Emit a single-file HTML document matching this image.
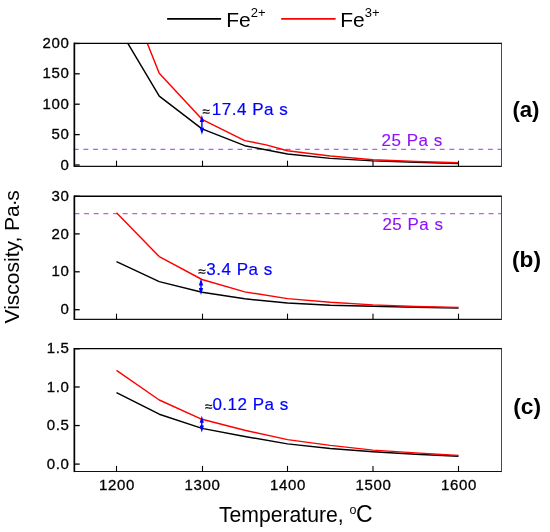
<!DOCTYPE html>
<html><head><meta charset="utf-8"><title>Viscosity vs Temperature</title>
<style>html,body{margin:0;padding:0;background:#fff;}svg{display:block;}text{font-family:"Liberation Sans", Arial, sans-serif;}text.t{stroke:#000;stroke-width:0.3px;}</style></head><body>
<svg width="550" height="532" viewBox="0 0 550 532">
<rect width="550" height="532" fill="#fff"/>
<defs>
<clipPath id="clipa"><rect x="74.0" y="43.35" width="427.5" height="122.95000000000002"/></clipPath>
<clipPath id="clipb"><rect x="74.0" y="196.3" width="427.5" height="123.0"/></clipPath>
<clipPath id="clipc"><rect x="74.0" y="348.65" width="427.5" height="122.85000000000002"/></clipPath>
</defs>
<line x1="167.1" y1="18.9" x2="221.1" y2="18.9" stroke="#000" stroke-width="1.6"/>
<text x="226.3" y="26.6" font-size="21">Fe<tspan font-size="13" dy="-9.8">2+</tspan></text>
<line x1="281.2" y1="18.9" x2="335.6" y2="18.9" stroke="#f00" stroke-width="1.6"/>
<text x="340.2" y="26.6" font-size="21">Fe<tspan font-size="13" dy="-9.8">3+</tspan></text>
<line x1="73.8" y1="149.3" x2="501.0" y2="149.3" stroke="#b45cff" stroke-width="1.2" stroke-dasharray="4.9 4.73"/>
<line x1="74.5" y1="213.55" x2="501.0" y2="213.55" stroke="#b45cff" stroke-width="1.2" stroke-dasharray="4.9 4.73"/>
<polyline clip-path="url(#clipa)" points="116.50,24.30 159.25,96.20 202.00,128.90 244.75,145.70 287.50,154.00 330.25,158.40 373.00,160.90 415.75,162.20 458.50,163.50" fill="none" stroke="#000" stroke-width="1.45" stroke-linejoin="round"/>
<polyline clip-path="url(#clipa)" points="116.50,-33.60 159.25,73.20 202.00,119.30 244.75,140.60 266.12,144.90 287.50,150.80 330.25,156.00 373.00,159.80 415.75,161.50 458.50,162.70" fill="none" stroke="#f00" stroke-width="1.45" stroke-linejoin="round"/>
<line x1="74.35" y1="42.65" x2="74.35" y2="166.9" stroke="#000" stroke-width="1.7"/>
<line x1="501.5" y1="42.65" x2="501.5" y2="166.9" stroke="#4a4a4a" stroke-width="1.05"/>
<line x1="74.0" y1="43.35" x2="501.5" y2="43.35" stroke="#000" stroke-width="1.4"/>
<line x1="74.0" y1="166.3" x2="501.5" y2="166.3" stroke="#111" stroke-width="1.2"/>
<line x1="74.0" y1="165.0" x2="79.7" y2="165.0" stroke="#000" stroke-width="1.3"/>
<text x="69.5" y="169.60" class="t" font-size="15.0" letter-spacing="0.65" text-anchor="end">0</text>
<line x1="74.0" y1="134.6" x2="79.7" y2="134.6" stroke="#000" stroke-width="1.3"/>
<text x="69.5" y="139.20" class="t" font-size="15.0" letter-spacing="0.65" text-anchor="end">50</text>
<line x1="74.0" y1="104.2" x2="79.7" y2="104.2" stroke="#000" stroke-width="1.3"/>
<text x="69.5" y="108.80" class="t" font-size="15.0" letter-spacing="0.65" text-anchor="end">100</text>
<line x1="74.0" y1="73.8" x2="79.7" y2="73.8" stroke="#000" stroke-width="1.3"/>
<text x="69.5" y="78.40" class="t" font-size="15.0" letter-spacing="0.65" text-anchor="end">150</text>
<line x1="74.0" y1="43.5" x2="79.7" y2="43.5" stroke="#000" stroke-width="1.3"/>
<text x="69.5" y="48.10" class="t" font-size="15.0" letter-spacing="0.65" text-anchor="end">200</text>
<line x1="116.50" y1="166.3" x2="116.50" y2="160.70" stroke="#000" stroke-width="1.1"/>
<line x1="202.50" y1="166.3" x2="202.50" y2="160.70" stroke="#000" stroke-width="1.1"/>
<line x1="287.50" y1="166.3" x2="287.50" y2="160.70" stroke="#000" stroke-width="1.1"/>
<line x1="373.00" y1="166.3" x2="373.00" y2="160.70" stroke="#000" stroke-width="1.1"/>
<line x1="458.50" y1="166.3" x2="458.50" y2="160.70" stroke="#000" stroke-width="1.1"/>
<polyline clip-path="url(#clipb)" points="116.50,261.60 159.25,281.60 202.00,292.30 244.75,298.80 287.50,303.00 330.25,305.20 373.00,306.20 415.75,307.30 458.50,308.00" fill="none" stroke="#000" stroke-width="1.45" stroke-linejoin="round"/>
<polyline clip-path="url(#clipb)" points="116.50,212.65 159.25,256.60 202.00,279.50 244.75,291.90 287.50,298.60 330.25,302.30 373.00,304.90 415.75,306.50 458.50,307.50" fill="none" stroke="#f00" stroke-width="1.45" stroke-linejoin="round"/>
<line x1="74.35" y1="195.60000000000002" x2="74.35" y2="319.90000000000003" stroke="#000" stroke-width="1.7"/>
<line x1="501.5" y1="195.60000000000002" x2="501.5" y2="319.90000000000003" stroke="#4a4a4a" stroke-width="1.05"/>
<line x1="74.0" y1="196.3" x2="501.5" y2="196.3" stroke="#000" stroke-width="1.4"/>
<line x1="74.0" y1="319.3" x2="501.5" y2="319.3" stroke="#111" stroke-width="1.2"/>
<line x1="74.0" y1="309.7" x2="79.7" y2="309.7" stroke="#000" stroke-width="1.3"/>
<text x="69.5" y="314.30" class="t" font-size="15.0" letter-spacing="0.65" text-anchor="end">0</text>
<line x1="74.0" y1="271.8" x2="79.7" y2="271.8" stroke="#000" stroke-width="1.3"/>
<text x="69.5" y="276.40" class="t" font-size="15.0" letter-spacing="0.65" text-anchor="end">10</text>
<line x1="74.0" y1="233.9" x2="79.7" y2="233.9" stroke="#000" stroke-width="1.3"/>
<text x="69.5" y="238.50" class="t" font-size="15.0" letter-spacing="0.65" text-anchor="end">20</text>
<line x1="74.0" y1="196.3" x2="79.7" y2="196.3" stroke="#000" stroke-width="1.3"/>
<text x="69.5" y="200.90" class="t" font-size="15.0" letter-spacing="0.65" text-anchor="end">30</text>
<line x1="116.50" y1="319.3" x2="116.50" y2="313.70" stroke="#000" stroke-width="1.1"/>
<line x1="202.50" y1="319.3" x2="202.50" y2="313.70" stroke="#000" stroke-width="1.1"/>
<line x1="287.50" y1="319.3" x2="287.50" y2="313.70" stroke="#000" stroke-width="1.1"/>
<line x1="373.00" y1="319.3" x2="373.00" y2="313.70" stroke="#000" stroke-width="1.1"/>
<line x1="458.50" y1="319.3" x2="458.50" y2="313.70" stroke="#000" stroke-width="1.1"/>
<polyline clip-path="url(#clipc)" points="116.50,392.70 159.25,414.20 202.00,428.40 244.75,436.50 287.50,443.90 330.25,448.50 373.00,451.80 415.75,454.20 458.50,456.30" fill="none" stroke="#000" stroke-width="1.45" stroke-linejoin="round"/>
<polyline clip-path="url(#clipc)" points="116.50,370.40 159.25,400.00 202.00,419.30 244.75,430.20 287.50,439.60 330.25,445.40 373.00,450.10 415.75,452.90 458.50,455.50" fill="none" stroke="#f00" stroke-width="1.45" stroke-linejoin="round"/>
<line x1="74.35" y1="347.95" x2="74.35" y2="472.1" stroke="#000" stroke-width="1.7"/>
<line x1="501.5" y1="347.95" x2="501.5" y2="472.1" stroke="#4a4a4a" stroke-width="1.05"/>
<line x1="74.0" y1="348.65" x2="501.5" y2="348.65" stroke="#000" stroke-width="1.4"/>
<line x1="74.0" y1="471.5" x2="501.5" y2="471.5" stroke="#111" stroke-width="1.2"/>
<line x1="74.0" y1="464.1" x2="79.7" y2="464.1" stroke="#000" stroke-width="1.3"/>
<text x="69.5" y="468.70" class="t" font-size="15.0" letter-spacing="0.65" text-anchor="end">0.0</text>
<line x1="74.0" y1="425.55" x2="79.7" y2="425.55" stroke="#000" stroke-width="1.3"/>
<text x="69.5" y="430.15" class="t" font-size="15.0" letter-spacing="0.65" text-anchor="end">0.5</text>
<line x1="74.0" y1="387.0" x2="79.7" y2="387.0" stroke="#000" stroke-width="1.3"/>
<text x="69.5" y="391.60" class="t" font-size="15.0" letter-spacing="0.65" text-anchor="end">1.0</text>
<line x1="74.0" y1="348.8" x2="79.7" y2="348.8" stroke="#000" stroke-width="1.3"/>
<text x="69.5" y="353.40" class="t" font-size="15.0" letter-spacing="0.65" text-anchor="end">1.5</text>
<line x1="116.50" y1="471.5" x2="116.50" y2="465.90" stroke="#000" stroke-width="1.1"/>
<line x1="202.50" y1="471.5" x2="202.50" y2="465.90" stroke="#000" stroke-width="1.1"/>
<line x1="287.50" y1="471.5" x2="287.50" y2="465.90" stroke="#000" stroke-width="1.1"/>
<line x1="373.00" y1="471.5" x2="373.00" y2="465.90" stroke="#000" stroke-width="1.1"/>
<line x1="458.50" y1="471.5" x2="458.50" y2="465.90" stroke="#000" stroke-width="1.1"/>
<text x="116.90" y="490.1" class="t" font-size="15.0" letter-spacing="0.65" text-anchor="middle">1200</text>
<text x="202.40" y="490.1" class="t" font-size="15.0" letter-spacing="0.65" text-anchor="middle">1300</text>
<text x="287.90" y="490.1" class="t" font-size="15.0" letter-spacing="0.65" text-anchor="middle">1400</text>
<text x="373.40" y="490.1" class="t" font-size="15.0" letter-spacing="0.65" text-anchor="middle">1500</text>
<text x="458.90" y="490.1" class="t" font-size="15.0" letter-spacing="0.65" text-anchor="middle">1600</text>
<text x="381.6" y="146.0" font-size="17" letter-spacing="0.5" fill="#9010fa" stroke="#9010fa" stroke-width="0.12">25 Pa s</text>
<text x="382.4" y="230.1" font-size="17" letter-spacing="0.5" fill="#9010fa" stroke="#9010fa" stroke-width="0.12">25 Pa s</text>
<line x1="201.9" y1="118.1" x2="201.9" y2="131.8" stroke="#0000ff" stroke-width="1.4"/><polygon points="201.9,115.1 199.75,122.1 204.05,122.1" fill="#0000ff"/><polygon points="201.9,134.8 199.75,127.80000000000001 204.05,127.80000000000001" fill="#0000ff"/>
<text x="202.6" y="115.6" font-size="13.5" fill="#111" stroke="#111" stroke-width="0.3">&#8776;</text>
<text x="211.85" y="114.8" font-size="17" letter-spacing="0.5" fill="#0000ff" stroke="#0000ff" stroke-width="0.18">17.4 Pa s</text>
<line x1="201.0" y1="281.5" x2="201.0" y2="292.0" stroke="#0000ff" stroke-width="1.4"/><polygon points="201.0,278.5 198.85,285.5 203.15,285.5" fill="#0000ff"/><polygon points="201.0,295.0 198.85,288.0 203.15,288.0" fill="#0000ff"/>
<text x="198.3" y="275.5" font-size="13.5" fill="#111" stroke="#111" stroke-width="0.3">&#8776;</text>
<text x="206.3" y="274.9" font-size="17" letter-spacing="0.5" fill="#0000ff" stroke="#0000ff" stroke-width="0.18">3.4 Pa s</text>
<line x1="201.8" y1="418.8" x2="201.8" y2="429.5" stroke="#0000ff" stroke-width="1.4"/><polygon points="201.8,415.8 199.65,422.8 203.95000000000002,422.8" fill="#0000ff"/><polygon points="201.8,432.5 199.65,425.5 203.95000000000002,425.5" fill="#0000ff"/>
<text x="205.1" y="411.2" font-size="13.5" fill="#111" stroke="#111" stroke-width="0.3">&#8776;</text>
<text x="212.4" y="410.3" font-size="17" letter-spacing="0.5" fill="#0000ff" stroke="#0000ff" stroke-width="0.18">0.12 Pa s</text>
<text x="512.4" y="117.4" font-size="22.2" font-weight="bold">(a)</text>
<text x="512.1" y="267.0" font-size="22.6" font-weight="bold">(b)</text>
<text x="513.2" y="414.4" font-size="22.8" font-weight="bold">(c)</text>
<text x="218.9" y="521.8" font-size="21.2">Temperature, <tspan font-size="12.5" dy="-8.2">o</tspan><tspan font-size="23" dx="-0.5" dy="8.2">C</tspan></text>
<text transform="translate(19.1,323.5) rotate(-90)" font-size="21">Viscosity, Pa<tspan dx="-1.07" dy="0.6">&#183;</tspan><tspan dx="-1.4" dy="-0.6">s</tspan></text>
</svg></body></html>
